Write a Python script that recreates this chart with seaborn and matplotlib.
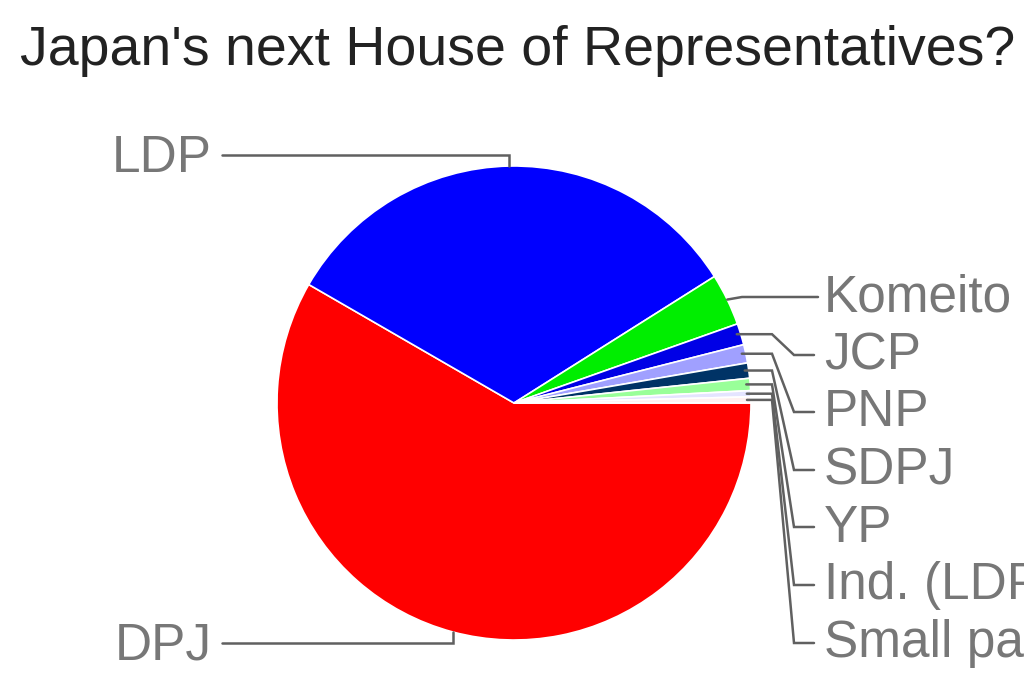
import numpy as np
import matplotlib
matplotlib.use("Agg")
import matplotlib.pyplot as plt
import seaborn as sns

# seat projection, order is clockwise from 3 o'clock
parties = ["DPJ", "LDP", "Komeito", "JCP", "PNP", "SDPJ", "YP",
           "Ind. (LDP-affiliated)", "Small parties"]
seats = [280, 157, 17, 7, 6, 5, 4, 2, 2]
colors = ["#ff0000", "#0000ff", "#00ee00", "#0000e6", "#a0a0ff",
          "#003366", "#99ff99", "#e4e4ff", "#fff0f0"]

sns.set_theme(style="white")
plt.rcParams["font.family"] = ["Liberation Sans", "DejaVu Sans"]

fig = plt.figure(figsize=(10.24, 6.82), dpi=100)
ax = fig.add_axes([0, 0, 1, 1])

# pixel-like coordinates, y down
cx, cy, r = 514, 403, 237
wedges, _ = ax.pie(seats, colors=colors, startangle=0, counterclock=True,
                   center=(cx, cy), radius=r,
                   wedgeprops=dict(edgecolor="white", linewidth=1.2))
ax.set_xlim(0, 1024)
ax.set_ylim(682, 0)
ax.set_aspect("auto")
ax.axis("off")

line_kw = dict(color="#606060", lw=1.8, solid_joinstyle="miter", zorder=5)
text_kw = dict(color="#777777", fontsize=37, va="center")

def edge_point(w):
    mid = np.deg2rad((w.theta1 + w.theta2) / 2)
    return cx + r * np.cos(mid), cy + r * np.sin(mid)

# left side labels (DPJ, LDP)
left_y = {"LDP": 155, "DPJ": 643}
for w, name in zip(wedges, parties):
    if name in left_y:
        ex, ey = edge_point(w)
        ly = left_y[name]
        ax.plot([ex, ex, 222], [ey, ly, ly], **line_kw)
        ax.text(212, ly + 3, name, ha="right", **text_kw)

# right side labels
right_y = [297, 355, 412, 470, 527, 585, 643]
for w, name, ly in zip(wedges[2:], parties[2:], right_y):
    ex, ey = edge_point(w)
    if name == "Komeito":
        xs, ys = [ex, 742, 818], [ey, ly, ly]
    else:
        xs, ys = [ex - 4, 772, 794, 814], [ey, ey, ly, ly]
    ax.plot(xs, ys, **line_kw)
    ax.text(824, ly + 1, name, ha="left", **text_kw)

ax.text(20, 51, "Japan's next House of Representatives?", ha="left",
        va="center", fontsize=40, color="#222222")

fig.savefig("out.png", dpi=100, facecolor="white")
